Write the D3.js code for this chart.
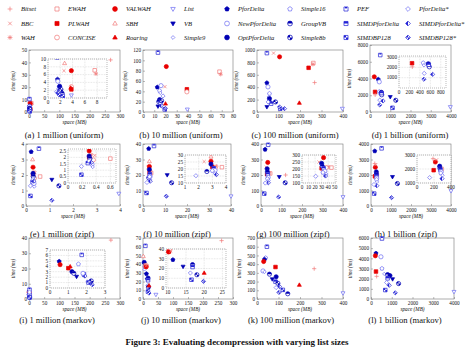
<!DOCTYPE html>
<html>
<head>
<meta charset="utf-8">
<script src="https://cdn.jsdelivr.net/npm/d3@7"></script>
<style>
  body { margin: 0; background: #fff; }
  text { font-family: "Liberation Serif", "DejaVu Serif", serif; fill: #111; }
</style>
</head>
<body>
<div id="chart"></div>
<script>
// methods, in legend order (3 rows x 8 columns)
var methods = ["Bitset", "EWAH", "VALWAH", "List", "PforDelta", "Simple16", "PEF", "PforDelta*",
  "BBC", "PLWAH", "SBH", "VB", "NewPforDelta", "GroupVB", "SIMDPforDelta", "SIMDPforDelta*",
  "WAH", "CONCISE", "Roaring", "Simple9", "OptPforDelta", "Simple8b", "SIMDBP128", "SIMDBP128*"];

var titles = ["(a) 1 million (uniform)", "(b) 10 million (uniform)", "(c) 100 million (uniform)", "(d) 1 billion (uniform)",
  "(e) 1 million (zipf)", "(f) 10 million (zipf)", "(g) 100 million (zipf)", "(h) 1 billion (zipf)",
  "(i) 1 million (markov)", "(j) 10 million (markov)", "(k) 100 million (markov)", "(l) 1 billion (markov)"];

// [method, space (MB), time (ms)]
var uniform1M = [["Bitset", 269, 42], ["EWAH", 7.6, 7.1], ["WAH", 7.8, 6.2], ["BBC", 2.6, 7.0], ["SBH", 2.7, 8.9],
  ["VALWAH", 3.8, 7.0], ["CONCISE", 3.8, 2.9], ["Roaring", 3.7, 2.6], ["PLWAH", 3.8, 2.2], ["List", 3.8, 0.7],
  ["PEF", 1.5, 10.4], ["PforDelta", 1.55, 4.8], ["NewPforDelta", 1.6, 4.3], ["Simple16", 1.8, 2.9], ["Simple9", 1.7, 2.5],
  ["PforDelta*", 1.4, 1.6], ["OptPforDelta", 1.9, 3.0], ["VB", 2.0, 0.9], ["GroupVB", 2.3, 1.2], ["SIMDPforDelta", 1.9, 1.9],
  ["SIMDPforDelta*", 1.6, 1.3], ["Simple8b", 2.1, 2.2], ["SIMDBP128", 2.4, 0.5], ["SIMDBP128*", 1.8, 0.8]];
var uniform10M = [["PEF", 13.3, 115], ["VALWAH", 20.7, 88], ["PLWAH", 39, 44], ["CONCISE", 39, 39], ["EWAH", 68, 78],
  ["WAH", 69, 73], ["BBC", 19.5, 49], ["Roaring", 20, 16], ["List", 39.4, 5],
  ["PforDelta", 12.7, 48], ["NewPforDelta", 16, 51], ["Simple16", 14.8, 41], ["Simple9", 15.4, 37], ["PforDelta*", 17.8, 31],
  ["OptPforDelta", 14.8, 24], ["GroupVB", 14, 20], ["VB", 13.3, 11], ["SIMDPforDelta", 15.5, 18], ["SIMDPforDelta*", 16.3, 12],
  ["Simple8b", 16.5, 22], ["SIMDBP128", 19.3, 5], ["SIMDBP128*", 19.9, 7]];
var uniform100M = [["PEF", 46, 950], ["BBC", 77, 950], ["VALWAH", 105, 890], ["PLWAH", 240, 713], ["EWAH", 262, 790],
  ["WAH", 260, 770], ["Bitset", 268, 475], ["Roaring", 197, 146], ["List", 397, 54],
  ["PforDelta", 46, 470], ["NewPforDelta", 51, 405], ["Simple16", 58, 297], ["Simple9", 55, 243], ["OptPforDelta", 58, 216],
  ["VB", 46, 81], ["GroupVB", 58, 162], ["SIMDPforDelta", 66, 135], ["Simple8b", 86, 162], ["SIMDBP128", 108, 54],
  ["SIMDBP128*", 105, 81], ["PforDelta*", 52, 162], ["SIMDPforDelta*", 128, 54]];
var uniform1B = [["PEF", 506, 6800], ["VALWAH", 212, 4200], ["PLWAH", 250, 2400], ["Bitset", 255, 2050],
  ["PforDelta", 408, 3900], ["NewPforDelta", 457, 3600], ["Simple16", 464, 2430], ["Simple9", 477, 2200],
  ["OptPforDelta", 561, 2350], ["GroupVB", 580, 2050], ["SIMDPforDelta", 570, 2250], ["PforDelta*", 483, 1420],
  ["SIMDBP128*", 477, 850], ["SIMDPforDelta*", 645, 1320], ["VB", 1000, 1800], ["Simple8b", 1273, 1400],
  ["SIMDBP128", 1110, 500], ["List", 3967, 600]];
var zipf1M = [["PEF", 0.55, 3.7], ["PforDelta", 0.22, 3.5], ["SBH", 0.28, 3.0], ["VALWAH", 0.3, 2.5], ["BBC", 0.38, 2.15],
  ["EWAH", 0.6, 1.9], ["PLWAH", 0.3, 2.0], ["WAH", 0.33, 2.2], ["CONCISE", 0.36, 1.8],
  ["OptPforDelta", 0.3, 2.1], ["GroupVB", 0.31, 1.9], ["SIMDPforDelta", 0.28, 1.55], ["NewPforDelta", 0.34, 1.45],
  ["Simple9", 0.35, 1.25], ["Simple16", 0.3, 1.7], ["SIMDPforDelta*", 0.33, 1.6], ["PforDelta*", 0.19, 1.3],
  ["SIMDBP128", 0.19, 0.65], ["VB", 1.1, 1.7], ["SIMDBP128*", 1.1, 0.37], ["Simple8b", 1.4, 1.3], ["List", 3.95, 0.8]];
var zipf10M = [["PforDelta", 2.6, 37], ["PEF", 5, 38.7], ["SBH", 2.9, 28.8], ["BBC", 2.4, 25.3], ["VALWAH", 2.9, 25.5],
  ["PLWAH", 3.0, 21.5], ["EWAH", 3.7, 21.3], ["WAH", 3.3, 22], ["CONCISE", 3.2, 20.5],
  ["OptPforDelta", 2.9, 23.5], ["GroupVB", 2.6, 18.2], ["SIMDPforDelta", 3.1, 20.5], ["NewPforDelta", 3.2, 19],
  ["Simple16", 3.0, 18.8], ["Simple9", 3.2, 17], ["SIMDPforDelta*", 3.3, 16], ["Simple8b", 13, 15], ["PforDelta*", 1.8, 15.2],
  ["SIMDBP128", 1.6, 8.4], ["VB", 11, 20], ["SIMDBP128*", 10.6, 6.3], ["List", 40, 6.3]];
var zipf100M = [["PforDelta", 20, 365], ["PEF", 35, 395], ["VALWAH", 33, 281], ["BBC", 26, 250], ["EWAH", 45, 210],
  ["Bitset", 120, 200], ["WAH", 40, 215], ["PLWAH", 30, 205], ["CONCISE", 37, 210],
  ["OptPforDelta", 30, 240], ["GroupVB", 31, 220], ["SIMDPforDelta", 33, 205], ["NewPforDelta", 35, 185],
  ["Simple16", 32, 175], ["Simple9", 37, 165], ["SIMDPforDelta*", 36, 150], ["PforDelta*", 21, 148],
  ["SIMDBP128", 16, 80], ["VB", 89, 188], ["SIMDBP128*", 86, 58], ["Simple8b", 118, 150], ["List", 400, 58]];
var zipf1B = [["PforDelta", 190, 3546], ["PEF", 530, 3720], ["Bitset", 188, 2735], ["VALWAH", 216, 2500],
  ["PLWAH", 196, 1915], ["BBC", 230, 2650], ["EWAH", 290, 2000],
  ["OptPforDelta", 267, 2200], ["GroupVB", 270, 2050], ["SIMDPforDelta", 275, 1950], ["NewPforDelta", 285, 1800],
  ["Simple16", 280, 1700], ["Simple9", 300, 1550], ["SIMDPforDelta*", 294, 1310], ["PforDelta*", 149, 1385],
  ["SIMDBP128", 160, 800], ["VB", 1074, 1880], ["SIMDBP128*", 1025, 540], ["Simple8b", 1322, 1450], ["List", 4000, 970]];
var markov1M = [["Bitset", 270, 38.6], ["PforDelta", 0.5, 4.9], ["VALWAH", 0.55, 4.3], ["PLWAH", 1.0, 3.65],
  ["Roaring", 1.1, 3.95], ["OptPforDelta", 1.2, 3.0], ["GroupVB", 1.3, 2.7], ["VB", 1.45, 2.1],
  ["SIMDPforDelta", 1.85, 2.5], ["SIMDPforDelta*", 1.9, 2.2], ["NewPforDelta", 1.8, 2.7], ["PEF", 1.73, 6.1],
  ["Simple16", 1.55, 4.4], ["Simple9", 2.05, 1.2], ["PforDelta*", 2.2, 0.9], ["SIMDBP128*", 2.3, 0.6],
  ["Simple8b", 2.25, 1.3], ["SIMDBP128", 2.1, 1.0]];
var markov10M = [["Bitset", 262, 67], ["PEF", 8, 61], ["SBH", 1, 49], ["OptPforDelta", 4, 42], ["WAH", 6, 39],
  ["Simple16", 6, 37], ["Simple9", 5, 34], ["PLWAH", 10.3, 37.5], ["CONCISE", 10.5, 38.5], ["VALWAH", 10.2, 37],
  ["BBC", 10.8, 38], ["PforDelta", 11.4, 29], ["VB", 14.2, 22], ["GroupVB", 16.8, 24], ["SIMDPforDelta", 16.8, 21.5],
  ["PforDelta*", 16.2, 15.4], ["SIMDBP128", 16.5, 8.5], ["Simple8b", 18, 13.6], ["SIMDBP128*", 19.8, 6.8],
  ["Roaring", 20, 15.4], ["List", 43, 5]];
var markov100M = [["PEF", 46, 600], ["Simple16", 40, 472], ["PforDelta", 35, 455], ["VALWAH", 31, 430],
  ["PLWAH", 86, 367], ["Roaring", 197, 161], ["Bitset", 266, 348], ["List", 400, 67],
  ["NewPforDelta", 28, 322], ["Simple9", 35, 311], ["GroupVB", 58, 285], ["VB", 71, 228], ["OptPforDelta", 89, 255],
  ["SIMDPforDelta", 86, 199], ["Simple8b", 97, 180], ["SIMDPforDelta*", 105, 142], ["PforDelta*", 89, 131],
  ["SIMDBP128", 120, 105], ["SIMDBP128*", 102, 75], ["GroupVB", 143, 60]];
var markov1B = [["PEF", 528, 5950], ["PforDelta", 240, 4500], ["VALWAH", 208, 4250], ["NewPforDelta", 480, 4150],
  ["PLWAH", 240, 2700], ["Bitset", 272, 2230], ["Simple16", 528, 3000], ["Simple9", 640, 2470], ["GroupVB", 800, 2400],
  ["OptPforDelta", 912, 2300], ["SIMDPforDelta", 800, 2030], ["VB", 1040, 1960], ["PforDelta*", 752, 1620],
  ["SIMDPforDelta*", 880, 1350], ["SIMDBP128", 688, 880], ["SIMDBP128*", 1168, 610], ["Simple8b", 1328, 1520],
  ["List", 4000, 710]];

var panels = [uniform1M, uniform10M, uniform100M, uniform1B, zipf1M, zipf10M, zipf100M, zipf1B,
  markov1M, markov10M, markov100M, markov1B];

// axis ranges and tick steps
var xMax = [300, 80, 400, 4000, 4, 40, 400, 4000, 300, 300, 400, 4000];
var xStep = [50, 10, 100, 1000, 1, 10, 100, 1000, 50, 50, 100, 1000];
var yMax = [50, 120, 1000, 8000, 4, 40, 400, 4000, 40, 70, 700, 6000];
var yStep = [10, 20, 200, 2000, 1, 10, 100, 1000, 10, 10, 100, 1000];

// inset (zoomed) views
var insets = {
  0: { x: [0, 9.6], y: [0, 10], xt: [0, 2, 4, 6, 8], yt: [0, 2, 4, 6, 8, 10] },
  3: { x: [0, 900], y: [0, 3100], xt: [0, 200, 400, 600, 800], yt: [1000, 2000, 3000] },
  4: { x: [0, 0.68], y: [0, 2.65], xt: [0, 0.2, 0.4, 0.6], yt: [0, 0.5, 1, 1.5, 2, 2.5] },
  5: { x: [1, 4], y: [10, 30], xt: [1, 2, 3, 4], yt: [10, 15, 20, 25, 30] },
  6: { x: [0, 52], y: [100, 300], xt: [0, 10, 20, 30, 40, 50], yt: [100, 150, 200, 250, 300] },
  7: { x: [0, 400], y: [1000, 3000], xt: [0, 200, 400], yt: [1000, 2000, 3000] },
  8: { x: [0, 3], y: [0, 7], xt: [0, 1, 2, 3], yt: [0, 1, 2, 3, 4, 5, 6, 7] },
  9: { x: [9.5, 26], y: [0, 40], xt: [10, 15, 20, 25], yt: [0, 10, 20, 30, 40] }
};

// layout (pixels): plot boxes [x0, y0, x1, y1]
var plotBox = [
  [29, 50, 120, 112], [143, 50, 233, 112], [257, 50, 343, 112], [370, 45, 451, 112],
  [26, 144, 120, 206], [143, 144, 231, 206], [261, 144, 343, 206], [371, 144, 451, 206],
  [29, 238, 120, 299], [143, 238, 233, 299], [257, 238, 343, 299], [371, 238, 454, 299]];
var insetBox = {
  0: [48, 59, 107, 98], 3: [399, 56, 446, 88], 4: [68, 149, 116, 183], 5: [185, 155, 226, 183],
  6: [302, 155, 336, 183], 7: [417, 155, 451, 183], 8: [50, 250, 105, 288], 9: [166, 249, 226, 288]
};
var captionX = [64, 181, 295, 410, 62, 177, 293, 406, 57, 181, 291, 405];
var captionY = [138, 138, 138, 138, 237, 237, 237, 237, 323, 323, 323, 323];

var LR = "#f07878", RD = "#e80000", LB = "#6b6bf2", DB = "#0000b4", MB = "#2323d6";
var styles = {
  "Bitset": ["plus", "", LR], "EWAH": ["square", "open", LR], "VALWAH": ["circle", "fill", RD],
  "List": ["triDown", "open", LB], "PforDelta": ["pent", "fill", DB], "Simple16": ["pent", "open", LB],
  "PEF": ["square", "bar", MB], "PforDelta*": ["diamond", "open", LB],
  "BBC": ["cross", "", LR], "PLWAH": ["square", "fill", RD], "SBH": ["triUp", "open", LR],
  "VB": ["triDown", "fill", DB], "NewPforDelta": ["circle", "open", LB], "GroupVB": ["circle", "half", DB],
  "SIMDPforDelta": ["square", "half", MB], "SIMDPforDelta*": ["diamond", "half", MB],
  "WAH": ["star", "", LR], "CONCISE": ["circle", "open", LR], "Roaring": ["triUp", "fill", RD],
  "Simple9": ["diamond", "small", LB], "OptPforDelta": ["circle", "fill", DB], "Simple8b": ["circle", "quarter", DB],
  "SIMDBP128": ["square", "quarter", MB], "SIMDBP128*": ["diamond", "quarter", MB]
};

function outline(shape, r) {
  if (shape == "square") { var s = r * 0.85; return "M" + -s + "," + -s + "H" + s + "V" + s + "H" + -s + "Z"; }
  if (shape == "diamond") return "M0," + -r + "L" + r + ",0L0," + r + "L" + -r + ",0Z";
  if (shape == "triUp") return "M0," + -r + "L" + r * 0.95 + "," + r * 0.65 + "L" + -r * 0.95 + "," + r * 0.65 + "Z";
  if (shape == "triDown") return "M0," + r + "L" + r * 0.95 + "," + -r * 0.65 + "L" + -r * 0.95 + "," + -r * 0.65 + "Z";
  if (shape == "pent") {
    return d3.range(5).map(function(i) {
      var a = -Math.PI / 2 + i * 2 * Math.PI / 5;
      return (i ? "L" : "M") + (r * Math.cos(a)).toFixed(2) + "," + (r * Math.sin(a)).toFixed(2);
    }).join("") + "Z";
  }
  return "M" + -r + ",0A" + r + "," + r + " 0 1 1 " + r + ",0A" + r + "," + r + " 0 1 1 " + -r + ",0Z";
}

function partial(shape, mode, r) {
  var s = r * 0.85;
  if (mode == "half") {
    if (shape == "square") return "M" + -s + "," + -s + "H" + s + "V0H" + -s + "Z";
    if (shape == "diamond") return "M0," + -r + "L" + -r + ",0L0," + r + "Z";
    return "M" + -r + ",0A" + r + "," + r + " 0 0 1 " + r + ",0Z";
  }
  if (mode == "quarter") {
    if (shape == "square") return "M0,0H" + -s + "V" + -s + "H0Z M0,0H" + s + "V" + s + "H0Z";
    if (shape == "diamond") return "M0,0L" + -r + ",0L0," + -r + "Z M0,0L" + r + ",0L0," + r + "Z";
    return "M0,0L" + -r + ",0A" + r + "," + r + " 0 0 1 0," + -r + "Z M0,0L" + r + ",0A" + r + "," + r + " 0 0 1 0," + r + "Z";
  }
  if (mode == "bar") return "M" + -s * 0.5 + "," + -s + "H" + s * 0.5 + "V" + -s * 0.3 + "H" + -s * 0.5 + "Z";
  return "";
}

function marker(g, name, r) {
  var st = styles[name], shape = st[0], mode = st[1], col = st[2];
  if (shape == "plus" || shape == "cross" || shape == "star") {
    var p = "";
    if (shape != "cross") p += "M" + -r + ",0H" + r + "M0," + -r + "V" + r;
    if (shape != "plus") { var k = r * 0.75; p += "M" + -k + "," + -k + "L" + k + "," + k + "M" + -k + "," + k + "L" + k + "," + -k; }
    g.append("path").attr("d", p).attr("stroke", col).attr("stroke-width", 0.7).attr("fill", "none");
    return;
  }
  var rr = mode == "small" ? r * 0.8 : r;
  g.append("path").attr("d", outline(shape, rr))
    .attr("fill", mode == "fill" ? col : "#fff")
    .attr("stroke", col).attr("stroke-width", 0.7);
  if (mode == "half" || mode == "quarter" || mode == "bar")
    g.append("path").attr("d", partial(shape, mode, rr)).attr("fill", col);
}

var svg = d3.select("#chart").append("svg")
  .attr("width", 474).attr("height", 351);

// legend
methods.forEach(function(m, i) {
  var row = Math.floor(i / 8), col = i % 8;
  var mx = [10, 57, 115, 173, 227, 290, 346, 408][col];
  var y = [9, 23.5, 37.5][row];
  marker(svg.append("g").attr("transform", "translate(" + mx + "," + y + ")"), m, 2.4);
  svg.append("text").attr("x", mx + 11).attr("y", y + 2.3)
    .attr("font-size", 6.6).attr("font-style", "italic").text(m);
});

function drawPoints(g, data, x, y, r) {
  data.forEach(function(d) {
    marker(g.append("g").attr("transform", "translate(" + x(d[1]) + "," + y(d[2]) + ")"), d[0], r);
  });
}

panels.forEach(function(data, i) {
  var b = plotBox[i];
  var x = d3.scaleLinear().domain([0, xMax[i]]).range([b[0], b[2]]);
  var y = d3.scaleLinear().domain([0, yMax[i]]).range([b[3], b[1]]);
  var g = svg.append("g");

  g.append("rect").attr("x", b[0]).attr("y", b[1]).attr("width", b[2] - b[0]).attr("height", b[3] - b[1])
    .attr("fill", "none").attr("stroke", "#777").attr("stroke-width", 0.6);

  var xt = d3.range(0, xMax[i] + xStep[i] / 2, xStep[i]);
  var yt = d3.range(0, yMax[i] + yStep[i] / 2, yStep[i]);
  g.append("g").attr("transform", "translate(0," + b[3] + ")")
    .call(d3.axisBottom(x).tickValues(xt).tickSizeInner(-2).tickSizeOuter(0).tickPadding(2).tickFormat(d3.format("~g")))
    .call(function(a) { a.select(".domain").remove(); a.selectAll("line").attr("stroke", "#777").attr("stroke-width", 0.5); a.selectAll("text").attr("font-size", 5.2).attr("font-family", null); });
  g.append("g").attr("transform", "translate(" + b[0] + ",0)")
    .call(d3.axisLeft(y).tickValues(yt).tickSizeInner(-2).tickSizeOuter(0).tickPadding(2).tickFormat(d3.format("~g")))
    .call(function(a) { a.select(".domain").remove(); a.selectAll("line").attr("stroke", "#777").attr("stroke-width", 0.5); a.selectAll("text").attr("font-size", 5.2).attr("font-family", null); });

  g.append("text").attr("x", (b[0] + b[2]) / 2).attr("y", b[3] + 11.5).attr("text-anchor", "middle")
    .attr("font-size", 5.2).attr("font-style", "italic").text("space (MB)");
  var w = String(yMax[i]).length;
  g.append("text").attr("transform", "translate(" + (b[0] - 9 - w * 2.4) + "," + (b[1] + b[3]) / 2 + ") rotate(-90)")
    .attr("text-anchor", "middle").attr("font-size", 5.2).attr("font-style", "italic").text("time (ms)");

  drawPoints(g, data, x, y, 2.1);

  var ins = insets[i];
  if (ins) {
    var ib = insetBox[i];
    var ix = d3.scaleLinear().domain(ins.x).range([ib[0], ib[2]]);
    var iy = d3.scaleLinear().domain(ins.y).range([ib[3], ib[1]]);
    g.append("rect").attr("x", ib[0]).attr("y", ib[1]).attr("width", ib[2] - ib[0]).attr("height", ib[3] - ib[1])
      .attr("fill", "#fff");
    ins.xt.forEach(function(t) {
      g.append("line").attr("x1", ix(t)).attr("x2", ix(t)).attr("y1", ib[1]).attr("y2", ib[3])
        .attr("stroke", "#bbb").attr("stroke-width", 0.4).attr("stroke-dasharray", "0.8,0.8");
      g.append("text").attr("x", ix(t)).attr("y", ib[3] + 5.5).attr("text-anchor", "middle")
        .attr("font-size", 5.2).text(d3.format("~g")(t));
    });
    ins.yt.forEach(function(t) {
      g.append("line").attr("x1", ib[0]).attr("x2", ib[2]).attr("y1", iy(t)).attr("y2", iy(t))
        .attr("stroke", "#bbb").attr("stroke-width", 0.4).attr("stroke-dasharray", "0.8,0.8");
      g.append("text").attr("x", ib[0] - 2).attr("y", iy(t) + 1.8).attr("text-anchor", "end")
        .attr("font-size", 5.2).text(d3.format("~g")(t));
    });
    g.append("rect").attr("x", ib[0]).attr("y", ib[1]).attr("width", ib[2] - ib[0]).attr("height", ib[3] - ib[1])
      .attr("fill", "none").attr("stroke", "#777").attr("stroke-width", 0.5).attr("stroke-dasharray", "1,1");
    var cid = "clip" + i;
    svg.append("clipPath").attr("id", cid).append("rect")
      .attr("x", ib[0]).attr("y", ib[1]).attr("width", ib[2] - ib[0]).attr("height", ib[3] - ib[1]);
    drawPoints(g.append("g").attr("clip-path", "url(#" + cid + ")"), data, ix, iy, 2.1);
  }

  g.append("text").attr("x", captionX[i]).attr("y", captionY[i]).attr("text-anchor", "middle")
    .attr("font-size", 8.6).text(titles[i]);
});

svg.append("text").attr("x", 237).attr("y", 345).attr("text-anchor", "middle")
  .attr("font-size", 9).attr("font-weight", "bold").text("Figure 3: Evaluating decompression with varying list sizes");
</script>
</body>
</html>
